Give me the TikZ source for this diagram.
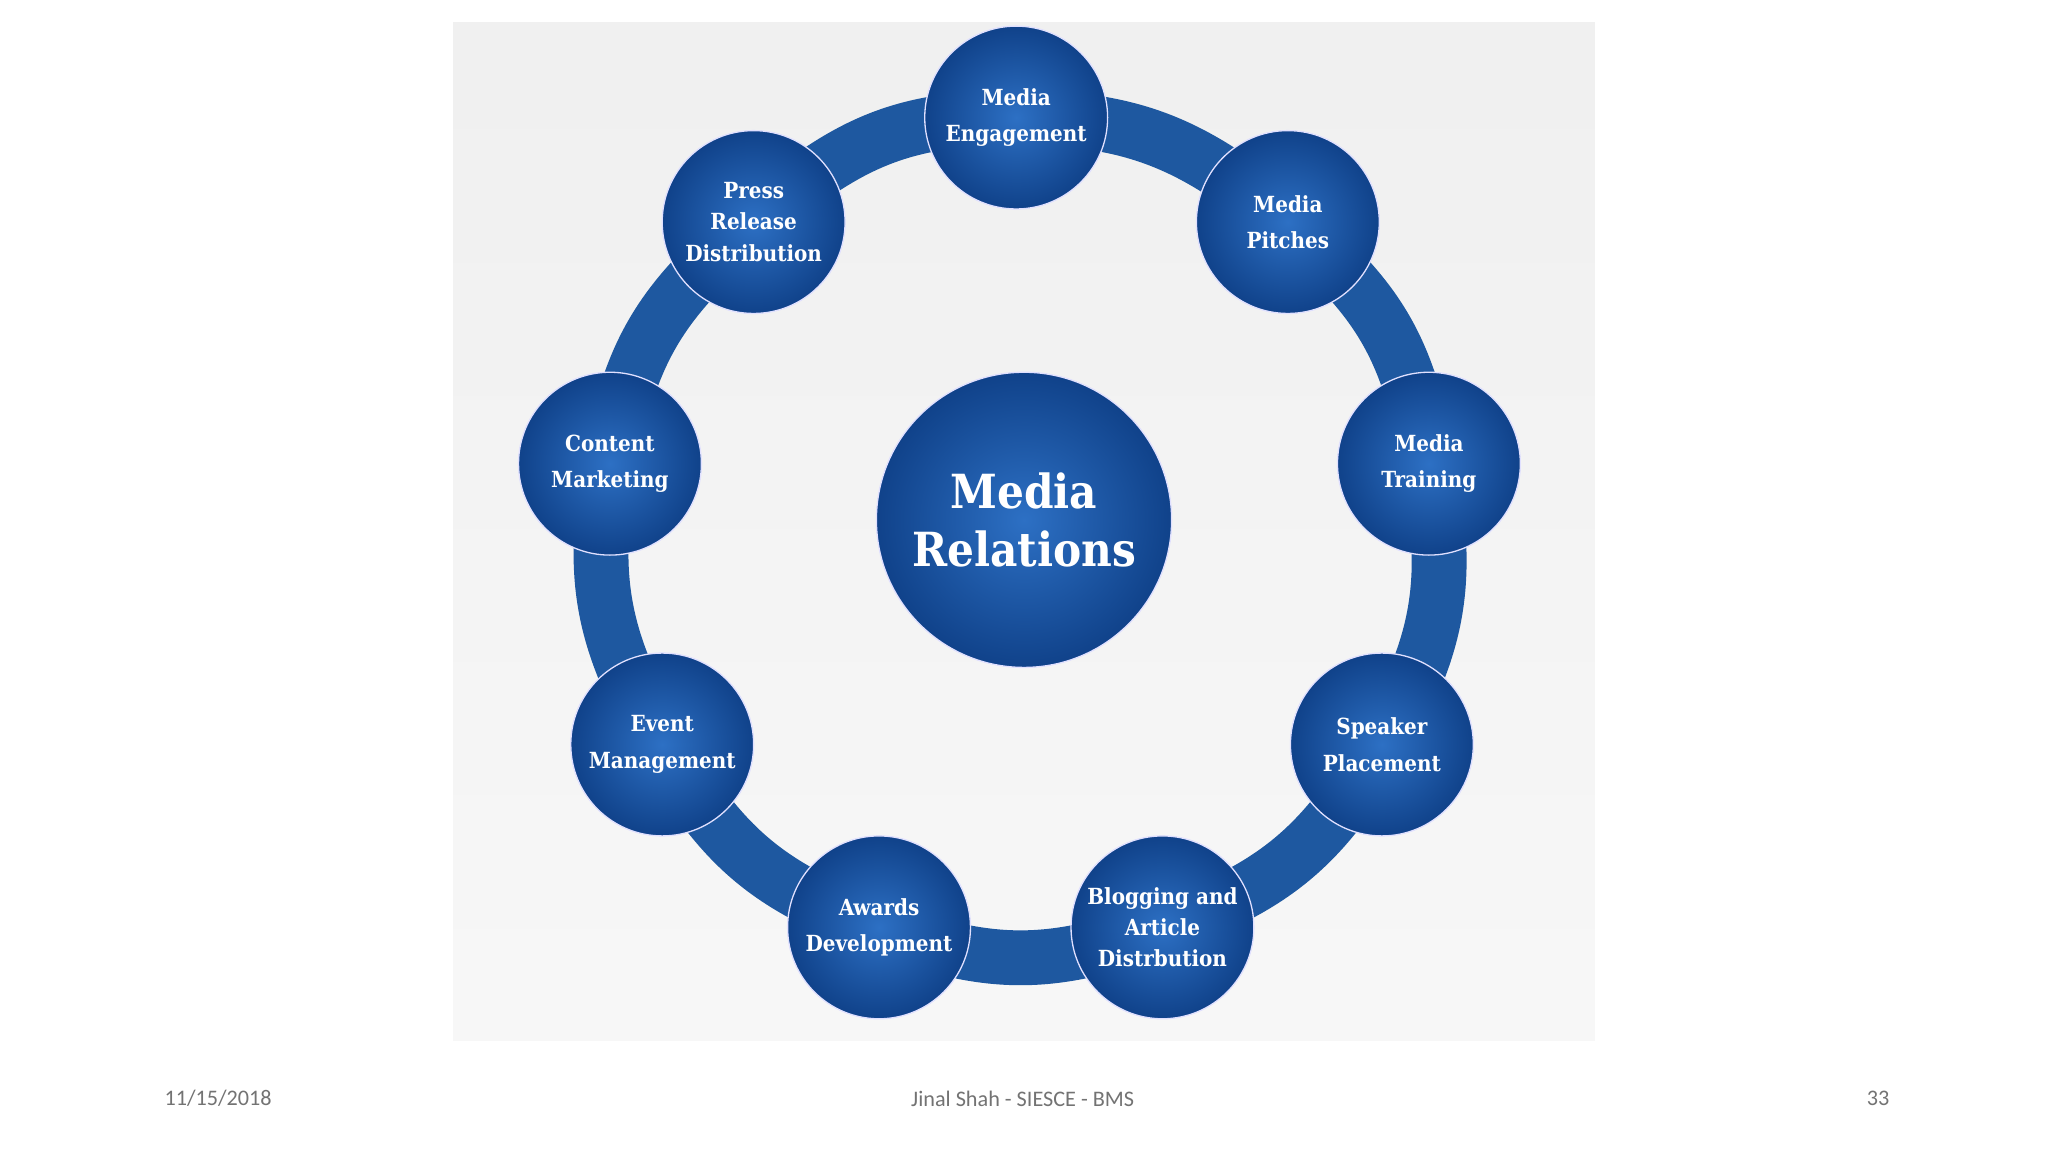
\documentclass[tikz,border=0pt]{standalone}
\usepackage{fontspec}
\setmainfont{Carlito}
\newfontfamily\slab{DejaVu Serif Condensed}
\begin{document}
\begin{tikzpicture}[x=1pt,y=-1pt,
  bub/.style={circle,minimum size=140pt,inner sep=0pt,align=center,text=white,
    font=\slab\bfseries\fontsize{17}{28}\selectfont,
    draw=white!60!blue!30,line width=1pt,
    inner color={rgb,255:red,45;green,112;blue,196},outer color={rgb,255:red,16;green,66;blue,138}},
  foot/.style={text=black!55,font=\fontsize{17}{20}\selectfont}]
\useasboundingbox (0,0) rectangle (1568,882);
\fill[white] (0,0) rectangle (1568,882);
\fill[top color=black!6,bottom color=black!3] (347,17) rectangle (1221,797);
\path[draw={rgb,255:red,30;green,88;blue,160},line width=42pt]
  plot[smooth cycle,tension=0.8] coordinates{(778,90)(986,170)(1094,355)(1058,570)(890,710)(673,710)(507,570)(467,355)(577,170)};
\node[bub] (eng) at (778,90) {Media\\Engagement};
\node[bub] (pit) at (986,170) {Media\\Pitches};
\node[bub] (tra) at (1094,355) {Media\\Training};
\node[bub] (spk) at (1058,570) {Speaker\\Placement};
\node[bub,font=\slab\bfseries\fontsize{17}{24}\selectfont] (blg) at (890,710) {Blogging and\\Article\\Distrbution};
\node[bub] (awd) at (673,710) {Awards\\Development};
\node[bub] (evt) at (507,570) {Event\\Management};
\node[bub] (cnt) at (467,355) {Content\\Marketing};
\node[bub,font=\slab\bfseries\fontsize{17}{24}\selectfont] (prs) at (577,170) {Press\\Release\\Distribution};
\node[bub,minimum size=226pt,font=\slab\bfseries\fontsize{36}{44}\selectfont] (mr) at (784,398) {Media\\Relations};
\node[foot] (d) at (167,841) {11/15/2018};
\node[foot] (a) at (783,841) {Jinal Shah - SIESCE - BMS};
\node[foot] (p) at (1438,841) {33};
\end{tikzpicture}
\end{document}
